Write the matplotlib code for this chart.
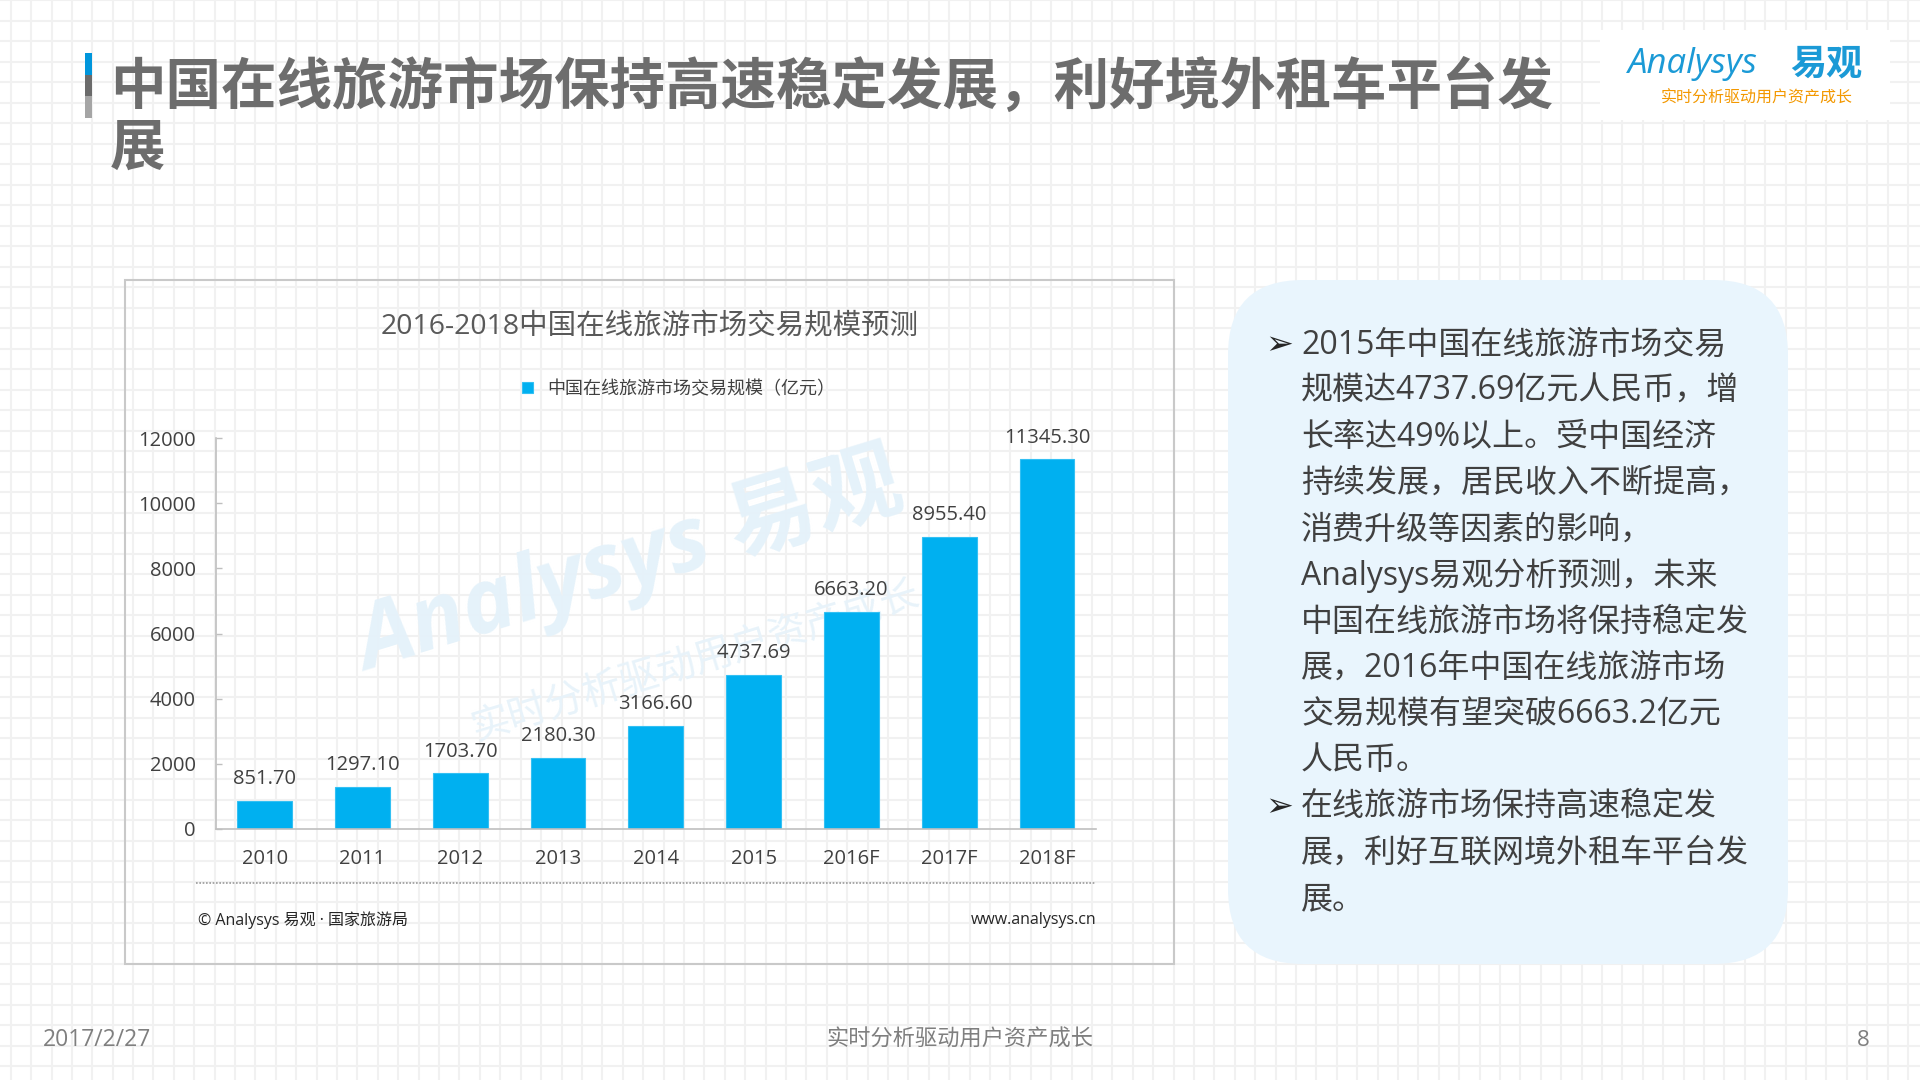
import numpy as np
import matplotlib.pyplot as plt
from matplotlib.patches import Rectangle, FancyBboxPatch

plt.rcParams['font.family'] = ['Open Sans', 'Noto Sans CJK SC', 'DejaVu Sans']

# data
years = ["2010", "2011", "2012", "2013", "2014", "2015", "2016F", "2017F", "2018F"]
scale = [851.70, 1297.10, 1703.70, 2180.30, 3166.60, 4737.69, 6663.20, 8955.40, 11345.30]
yticks = [0, 2000, 4000, 6000, 8000, 10000, 12000]

title_lines = ["中国在线旅游市场保持高速稳定发展，利好境外租车平台发", "展"]
chart_title = "2016-2018中国在线旅游市场交易规模预测"
series_name = "中国在线旅游市场交易规模（亿元）"
source_text = "© Analysys 易观 · 国家旅游局"
site_text = "www.analysys.cn"
panel_lines = [
    (True, "2015年中国在线旅游市场交易"),
    (False, "规模达4737.69亿元人民币，增"),
    (False, "长率达49%以上。受中国经济"),
    (False, "持续发展，居民收入不断提高，"),
    (False, "消费升级等因素的影响，"),
    (False, "Analysys易观分析预测，未来"),
    (False, "中国在线旅游市场将保持稳定发"),
    (False, "展，2016年中国在线旅游市场"),
    (False, "交易规模有望突破6663.2亿元"),
    (False, "人民币。"),
    (True, "在线旅游市场保持高速稳定发"),
    (False, "展，利好互联网境外租车平台发"),
    (False, "展。"),
]

BAR = "#00b0f0"
DARK = "#404040"

fig = plt.figure(figsize=(19.2, 10.8), dpi=100)
fig.patch.set_facecolor("white")

# background layer in pixel coordinates
bg = fig.add_axes([0, 0, 1, 1], zorder=0)
bg.set_xlim(0, 1920)
bg.set_ylim(1080, 0)
bg.axis("off")

for x in np.arange(10.7, 1920, 20.4):
    bg.axvline(x, color="#f1f1f1", lw=1.5, zorder=0)
for y in np.arange(0.3, 1080, 20.5):
    bg.axhline(y, color="#f1f1f1", lw=1.5, zorder=0)

# title
bg.add_patch(Rectangle((85, 53), 7, 22, color="#0096dc", lw=0))
bg.add_patch(Rectangle((85, 75), 7, 21, color="#6b6b6b", lw=0))
bg.add_patch(Rectangle((85, 96), 7, 22, color="#a5a5a5", lw=0))
bg.text(110, 88, title_lines[0], fontsize=40, fontweight="bold", color="#6d6d6d",
        va="center", ha="left", family=["Noto Sans CJK SC", "DejaVu Sans"])
bg.text(110, 149, title_lines[1], fontsize=40, fontweight="bold", color="#6d6d6d",
        va="center", ha="left", family=["Noto Sans CJK SC", "DejaVu Sans"])

# logo
bg.add_patch(Rectangle((1600, 30), 290, 90, color="white", lw=0, zorder=1))
bg.text(1628, 64, "Analysys", fontsize=25, style="italic", color="#1b9ad6",
        va="center", ha="left", zorder=2)
bg.text(1862, 64, "易观", fontsize=26, fontweight="bold", color="#1b9ad6",
        va="center", ha="right", family=["Noto Sans CJK SC"], zorder=2)
bg.text(1757, 98, "实时分析驱动用户资产成长", fontsize=11.5, color="#f39800",
        va="center", ha="center", family=["Noto Sans CJK SC"], zorder=2)

# watermark
bg.text(630, 565, "Analysys 易观", fontsize=64, fontweight="bold", style="italic",
        color="#e5f2fa", rotation=17, va="center", ha="center", zorder=1)
bg.text(695, 662, "实时分析驱动用户资产成长", fontsize=28, color="#e8f3fa",
        rotation=17, va="center", ha="center", zorder=1)

# chart frame
bg.add_patch(Rectangle((125, 280), 1049, 684, fill=False, edgecolor="#c9c9c9", lw=1.5, zorder=2))
bg.text(650, 326, chart_title, fontsize=20.5, color="#595959", ha="center", va="center", zorder=3)
bg.plot([196, 1096], [883, 883], color="#9a9a9a", lw=1.2, ls=(0, (1, 1)), zorder=3)
bg.text(198, 920, source_text, fontsize=11.5, color="#262626", ha="left", va="center", zorder=3)
bg.text(1096, 920, site_text, fontsize=11.5, color="#262626", ha="right", va="center", zorder=3)

# right panel
bg.add_patch(FancyBboxPatch((1228, 280), 560, 684, boxstyle="round,pad=0,rounding_size=75",
                            facecolor="#e9f5fd", edgecolor="none", zorder=2))
y0, step = 345, 46.2
for i, (bullet, line) in enumerate(panel_lines):
    y = y0 + i * step
    if bullet:
        bg.text(1279, y, "➢", fontsize=24, color="#262626", ha="center", va="center",
                family=["DejaVu Sans"], zorder=3)
    bg.text(1301, y, line, fontsize=23, color=DARK, ha="left", va="center", zorder=3)

# footer
bg.text(43, 1040, "2017/2/27", fontsize=16.5, color="#7f7f7f", ha="left", va="center")
bg.text(960, 1040, "实时分析驱动用户资产成长", fontsize=16, color="#7f7f7f", ha="center", va="center")
bg.text(1870, 1040, "8", fontsize=16, color="#7f7f7f", ha="right", va="center")

# bar chart
ax = fig.add_axes([215.7 / 1920, 1 - 829 / 1080, 880.3 / 1920, 391 / 1080], zorder=3)
ax.patch.set_alpha(0)
x = np.arange(len(years))
bars = ax.bar(x, scale, width=0.56, color=BAR, edgecolor="#33c0f3", lw=0.8, label=series_name)
ax.bar_label(bars, labels=[f"{v:.2f}" for v in scale], padding=8.5, fontsize=14.5, color=DARK)
ax.set_xlim(-0.5, len(years) - 0.5)
ax.set_ylim(0, 12000)
ax.set_xticks(x)
ax.set_xticklabels(years)
ax.set_yticks(yticks)
ax.tick_params(axis="x", length=0, pad=14.5, labelsize=14.5, labelcolor=DARK)
ax.tick_params(axis="y", direction="in", length=4.5, width=1, color="#bfbfbf",
               pad=14.5, labelsize=14.5, labelcolor=DARK)
for side in ["top", "right"]:
    ax.spines[side].set_visible(False)
for side in ["left", "bottom"]:
    ax.spines[side].set_color("#bfbfbf")
    ax.spines[side].set_linewidth(1.2)

ax.legend(loc="center", bbox_to_anchor=(679 / 1920, 1 - 389 / 1080), bbox_transform=fig.transFigure,
          frameon=False, fontsize=13, handlelength=0.6, handleheight=0.6, handletextpad=0.8,
          labelcolor="#404040")

fig.savefig("out.png", dpi=100)
